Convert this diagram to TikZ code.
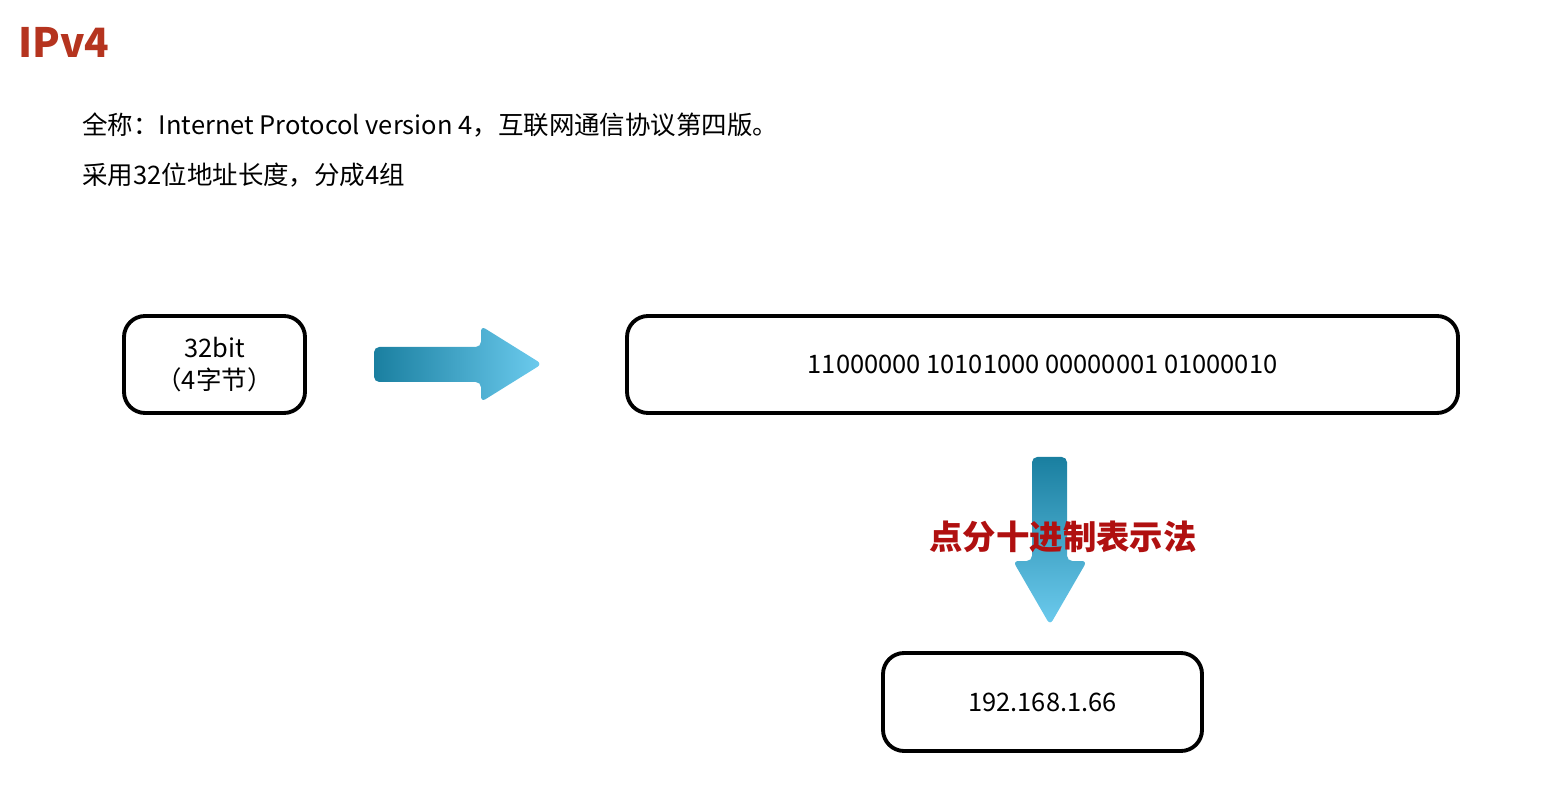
\documentclass[tikz,border=0pt]{standalone}
\usepackage{fontspec}
\setmainfont{Noto Sans CJK SC}
\usetikzlibrary{positioning}
\definecolor{titlered}{HTML}{B5341F}
\definecolor{labelred}{HTML}{B01010}
\definecolor{arrowdark}{HTML}{1A7FA0}
\definecolor{arrowlight}{HTML}{6CCBEE}
\tikzstyle{valuebox}=[
	rectangle,
	rounded corners=12pt,
	line width=2.2pt,
	draw=black,
	align=center,
	font=\fontsize{14.5pt}{18pt}\selectfont
]
\tikzstyle{bodytext}=[
	anchor=west,
	inner sep=0pt,
	font=\fontsize{14.5pt}{18pt}\selectfont
]
\tikzstyle{fatarrow}=[
	rounded corners=3pt
]

\begin{document}
\begin{tikzpicture}[x=0.02cm,y=-0.02cm]
\useasboundingbox (0,0) rectangle (1547,786);
\node [anchor=west, inner sep=0pt, text=titlered, font=\fontsize{23pt}{26pt}\selectfont\bfseries] (title) at (18,42) {IPv4};
\node [bodytext] (fullname) at (82,125) {全称：Internet Protocol version 4，互联网通信协议第四版。};
\node [bodytext] (length) at (82,175) {采用32位地址长度，分成4组};
\node [valuebox, minimum width=181*0.02cm, minimum height=97*0.02cm] (bits) at (214.5,364.5) {32bit\\（4字节）};
\node [valuebox, minimum width=831*0.02cm, minimum height=97*0.02cm] (binary) at (1042.5,364.5) {11000000 10101000 00000001 01000010};
\node [valuebox, minimum width=319*0.02cm, minimum height=98*0.02cm] (dotted) at (1042.5,702) {192.168.1.66};
% conversion arrows
\shade [fatarrow, left color=arrowdark, right color=arrowlight]
	(374,347) -- (481,347) -- (481,326) -- (542,364) -- (481,402) -- (481,382) -- (374,382) -- cycle;
\shade [fatarrow, top color=arrowdark, bottom color=arrowlight]
	(1032,457) -- (1067,457) -- (1067,561) -- (1087,561) -- (1050,625) -- (1013,561) -- (1032,561) -- cycle;
\node [text=labelred, font=\fontsize{19pt}{22pt}\selectfont\bfseries] (method) at (1063,537) {点分十进制表示法};
\end{tikzpicture}
\end{document}
